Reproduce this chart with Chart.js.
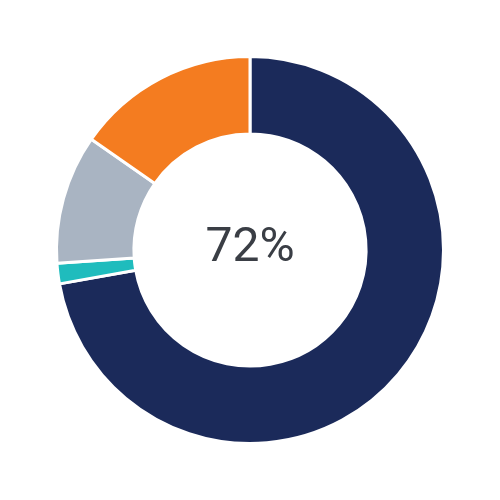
<!DOCTYPE html>
<html>
<head>
<meta charset="utf-8">
<script src="https://cdn.jsdelivr.net/npm/chart.js@4"></script>
<style>
  html, body { margin: 0; padding: 0; background: #ffffff; }
  #wrap { width: 500px; height: 500px; }
</style>
</head>
<body>
<div id="wrap"><canvas id="donut"></canvas></div>
<script>
// segment data, clockwise from 12 o'clock
const labels = ['Navy', 'Teal', 'Gray', 'Orange'];
const values = [72.2, 1.7, 10.8, 15.3];
const colours = ['#1b2a5a', '#1fbcbd', '#a9b4c2', '#f47c20'];
const centerLabel = '72%';

// draw the big number in the hole
const centerText = {
  id: 'centerText',
  afterDraw(chart) {
    const ctx = chart.ctx;
    const arc = chart.getDatasetMeta(0).data[0];
    ctx.save();
    ctx.font = '48px Roboto, "Noto Sans", sans-serif';
    ctx.fillStyle = '#3a3e45';
    ctx.textAlign = 'center';
    ctx.textBaseline = 'middle';
    ctx.fillText(centerLabel, arc.x, arc.y - 1);
    ctx.restore();
  }
};

new Chart(document.getElementById('donut'), {
  type: 'doughnut',
  data: {
    labels: labels,
    datasets: [{
      data: values,
      backgroundColor: colours,
      borderColor: '#ffffff',
      borderWidth: 3
    }]
  },
  options: {
    responsive: true,
    maintainAspectRatio: false,
    animation: false,
    cutout: '60%',
    layout: { padding: 55 },
    plugins: {
      legend: { display: false },
      tooltip: { enabled: false }
    }
  },
  plugins: [centerText]
});
</script>
</body>
</html>
